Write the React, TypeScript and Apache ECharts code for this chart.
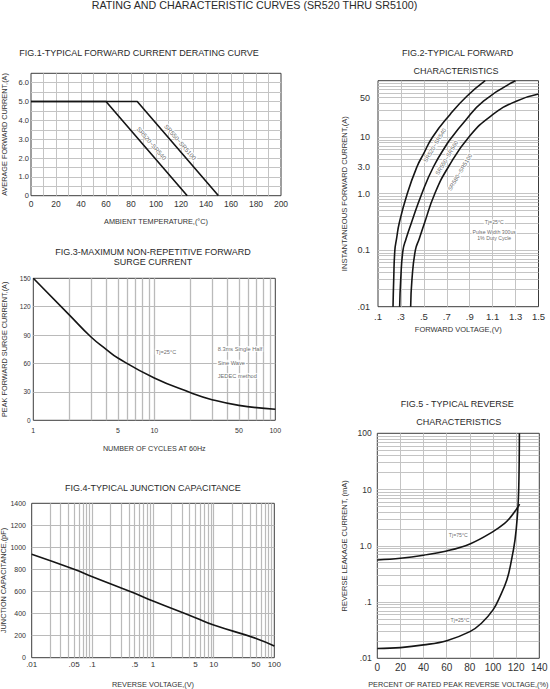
import React, { useEffect, useRef } from "react";
import * as echarts from "echarts";

const FONT = "'Liberation Sans', Arial, Helvetica, sans-serif";
const INK = "#151515";
const LABEL_INK = "#333333";
const GRID_LINE = "#c4c4c4";
const GRID_LINE_DARK = "#bababa";
const BORDER = "#3c3c3c";

const lg = (v: number) => Math.log10(v);

// ---------------- Titles ----------------
const mainTitle = "RATING AND CHARACTERISTIC CURVES (SR520 THRU SR5100)";

// ---------------- Fig.1 ----------------
const fig1Title = ["FIG.1-TYPICAL FORWARD CURRENT DERATING CURVE"];
const fig1XName = "AMBIENT TEMPERATURE,(°C)";
const fig1YName = "AVERAGE FORWARD CURRENT,(A)";
const fig1XGrid = [10, 20, 30, 40, 50, 60, 70, 80, 90, 100, 110, 120, 130, 140, 150, 160, 170, 180, 190];
const fig1XTickValues = [0, 20, 40, 60, 80, 100, 120, 140, 160, 180, 200];
const fig1XTickLabels = ["0", "20", "40", "60", "80", "100", "120", "140", "160", "180", "200"];
const fig1YGrid = [0.5, 1, 1.5, 2, 2.5, 3, 3.5, 4, 4.5, 5, 5.5, 6];
const fig1YTickValues = [0, 1, 2, 3, 4, 5, 6];
const fig1YTickLabels = ["0", "1.0", "2.0", "3.0", "4.0", "5.0", "6.0"];
const fig1SR520 = [[0, 5], [60, 5], [125, 0]];
const fig1SR550 = [[0, 5], [85, 5], [150, 0]];

// ---------------- Fig.2 ----------------
const fig2Title = ["FIG.2-TYPICAL FORWARD", "CHARACTERISTICS"];
const fig2XName = "FORWARD VOLTAGE,(V)";
const fig2YName = "INSTANTANEOUS FORWARD CURRENT,(A)";
const fig2XGrid = [0.3, 0.5, 0.7, 0.9, 1.1, 1.3];
const fig2XTickValues = [0.1, 0.3, 0.5, 0.7, 0.9, 1.1, 1.3, 1.5];
const fig2XTickLabels = [".1", ".3", ".5", ".7", ".9", "1.1", "1.3", "1.5"];
const fig2YTickValues = [0.01, 0.1, 1, 3, 10, 50];
const fig2YTickLabels = [".01", "0.1", "1.0", "3.0", "10", "50"];
const fig2SR520 = [[0.231, 0.01], [0.237, 0.03], [0.247, 0.1], [0.262, 0.16], [0.285, 0.3], [0.355, 1], [0.44, 3], [0.496, 5], [0.575, 10], [0.729, 25.3], [0.875, 53], [1.035, 100]];
const fig2SR550 = [[0.289, 0.01], [0.298, 0.03], [0.318, 0.1], [0.345, 0.16], [0.39, 0.3], [0.482, 1], [0.584, 3], [0.7, 7.5], [0.744, 10], [0.846, 18], [1.02, 43.6], [1.3, 100]];
const fig2SR580 = [[0.385, 0.01], [0.396, 0.03], [0.426, 0.1], [0.46, 0.16], [0.505, 0.3], [0.595, 1], [0.715, 3], [0.9, 10.5], [1.1, 25], [1.3, 43], [1.5, 58]];

// ---------------- Fig.3 ----------------
const fig3Title = ["FIG.3-MAXIMUM NON-REPETITIVE FORWARD", "SURGE CURRENT"];
const fig3XName = "NUMBER OF CYCLES AT 60Hz";
const fig3YName = "PEAK FORWARD SURGE CURRENT,(A)";
const fig3XTickValues = [1, 5, 10, 50, 100];
const fig3XTickLabels = ["1", "5", "10", "50", "100"];
const fig3YGrid = [30, 60, 90, 120];
const fig3YTickValues = [0, 30, 60, 90, 120, 150];
const fig3YTickLabels = ["0", "30", "60", "90", "120", "150"];
const fig3Surge = [[1, 150], [2, 110.9], [3, 88], [4, 75], [5, 65.8], [10, 44.7], [20, 29.2], [30, 21.8], [50, 15.8], [100, 11.6]];

// ---------------- Fig.4 ----------------
const fig4Title = ["FIG.4-TYPICAL JUNCTION CAPACITANCE"];
const fig4XName = "REVERSE VOLTAGE,(V)";
const fig4YName = "JUNCTION CAPACITANCE,(pF)";
const fig4XTickValues = [0.01, 0.05, 0.1, 0.5, 1, 5, 10, 50, 100];
const fig4XTickLabels = [".01", ".05", ".1", ".5", "1", "5", "10", "50", "100"];
const fig4YGrid = [200, 400, 600, 800, 1000, 1200];
const fig4YTickValues = [0, 200, 400, 600, 800, 1000, 1200, 1400];
const fig4YTickLabels = ["0", "200", "400", "600", "800", "1000", "1200", "1400"];
const fig4Cap = [[0.01, 937], [0.05, 801], [0.1, 735], [0.5, 584], [1, 514], [5, 363], [10, 296], [50, 175], [100, 106]];

// ---------------- Fig.5 ----------------
const fig5Title = ["FIG.5 - TYPICAL REVERSE", "CHARACTERISTICS"];
const fig5XName = "PERCENT OF RATED PEAK REVERSE VOLTAGE,(%)";
const fig5YName = "REVERSE LEAKAGE CURRENT, (mA)";
const fig5XGrid = [20, 40, 60, 80, 100, 120];
const fig5XTickValues = [0, 20, 40, 60, 80, 100, 120, 140];
const fig5XTickLabels = ["0", "20", "40", "60", "80", "100", "120", "140"];
const fig5YTickValues = [0.01, 0.1, 1, 10, 100];
const fig5YTickLabels = [".01", ".1", "1.0", "10", "100"];
const fig5Tj75 = [[0, 0.56], [20, 0.6], [40, 0.68], [60, 0.81], [80, 1.08], [100, 1.79], [110, 2.5], [115, 3.2], [120, 4.4], [123, 5.5]];
const fig5Tj25 = [[0, 0.0149], [20, 0.0155], [40, 0.0173], [60, 0.0206], [80, 0.0298], [90, 0.042], [100, 0.0725], [106, 0.125], [112, 0.248], [116, 0.56], [119, 1.27], [121, 3.3], [122.2, 9.9], [122.8, 100]];

// ---------------- helpers ----------------
function logGrid(minExp: number, maxExp: number): number[] {
  const out: number[] = [];
  for (let e = minExp; e < maxExp; e++) {
    for (let k = 1; k <= 9; k++) {
      if (e === minExp && k === 1) continue;
      out.push(lg(k * Math.pow(10, e)));
    }
  }
  return out;
}

function fmt(values: number[], labels: string[]) {
  return (val: number) => {
    for (let i = 0; i < values.length; i++) {
      if (Math.abs(values[i] - val) < 1e-6) return labels[i];
    }
    return "";
  };
}

type AxisSpec = {
  gridIndex: number;
  min: number;
  max: number;
  grid: number[];
  ticks: number[];
  labels: string[];
  fontSize: number;
  margin: number;
  name: string;
  nameGap: number;
  nameSize: number;
  lineColor?: string;
  lineWidth?: number;
};

function makeAxis(s: AxisSpec) {
  return {
    type: "value",
    gridIndex: s.gridIndex,
    min: s.min,
    max: s.max,
    name: s.name,
    nameLocation: "middle",
    nameGap: s.nameGap,
    nameTextStyle: { fontSize: s.nameSize, color: LABEL_INK, fontFamily: FONT },
    axisLine: { show: false },
    axisTick: { show: false, customValues: s.grid },
    axisLabel: {
      show: true,
      customValues: s.ticks,
      formatter: fmt(s.ticks, s.labels),
      fontSize: s.fontSize,
      color: LABEL_INK,
      fontFamily: FONT,
      margin: s.margin,
    },
    splitLine: { show: true, lineStyle: { color: s.lineColor || GRID_LINE, width: s.lineWidth || 1 } },
    minorTick: { show: false },
    minorSplitLine: { show: false },
  };
}

function curve(idx: number, data: number[][], logX: boolean, logY: boolean, smooth: number | boolean) {
  return {
    type: "line",
    xAxisIndex: idx,
    yAxisIndex: idx,
    data: data.map(([x, y]) => [logX ? lg(x) : x, logY ? lg(y) : y]),
    showSymbol: false,
    symbol: "none",
    smooth,
    silent: true,
    z: 3,
    lineStyle: { color: INK, width: 1.6 },
  };
}

type Note = { text: string; x: number; y: number; rotate?: number; align?: string; size: number };

function notes(idx: number, items: Note[], logX: boolean, logY: boolean) {
  return {
    type: "scatter",
    xAxisIndex: idx,
    yAxisIndex: idx,
    symbolSize: 0.1,
    silent: true,
    z: 5,
    itemStyle: { color: "transparent" },
    label: {
      show: true,
      position: "inside",
      color: "#444",
      fontFamily: FONT,
      backgroundColor: "#ffffff",
      padding: [0, 1],
    },
    data: items.map((n) => ({
      value: [logX ? lg(n.x) : n.x, logY ? lg(n.y) : n.y],
      label: {
        formatter: n.text,
        rotate: n.rotate || 0,
        align: n.align || "center",
        verticalAlign: "middle",
        fontSize: n.size,
      },
    })),
  };
}

function titleText(text: string, x: number, y: number, size: number) {
  return {
    type: "text",
    x,
    y,
    silent: true,
    style: {
      text,
      fill: "#2a2a2a",
      fontSize: size,
      fontFamily: FONT,
      align: "center",
      verticalAlign: "middle",
    },
  };
}

function buildOption() {
  const gridBase = {
    show: true,
    borderColor: BORDER,
    borderWidth: 1,
    backgroundColor: "transparent",
    containLabel: false,
    outerBoundsMode: "none",
  };

  const grids = [
    { ...gridBase, left: 31, top: 73.3, width: 250, height: 122.4 },
    { ...gridBase, left: 378, top: 80.7, width: 160.5, height: 226 },
    { ...gridBase, left: 33.3, top: 278.3, width: 242, height: 142 },
    { ...gridBase, left: 31.7, top: 503.3, width: 242.6, height: 154.4 },
    { ...gridBase, left: 377.3, top: 433.3, width: 162, height: 225 },
  ];

  const xAxes = [
    makeAxis({ gridIndex: 0, min: 0, max: 200, grid: fig1XGrid, ticks: fig1XTickValues, labels: fig1XTickLabels, fontSize: 8.5, margin: 3.5, name: fig1XName, nameGap: 22, nameSize: 7.3 }),
    makeAxis({ gridIndex: 1, min: 0.1, max: 1.5, grid: fig2XGrid, ticks: fig2XTickValues, labels: fig2XTickLabels, fontSize: 9.5, margin: 4.5, name: fig2XName, nameGap: 19, nameSize: 7.5 }),
    makeAxis({ gridIndex: 2, min: 0, max: 2, grid: logGrid(0, 2), ticks: fig3XTickValues.map(lg), labels: fig3XTickLabels, fontSize: 7, margin: 7, name: fig3XName, nameGap: 25, nameSize: 7.2, lineColor: GRID_LINE_DARK, lineWidth: 1.3 }),
    makeAxis({ gridIndex: 3, min: -2, max: 2, grid: logGrid(-2, 2), ticks: fig4XTickValues.map(lg), labels: fig4XTickLabels, fontSize: 8, margin: 2.5, name: fig4XName, nameGap: 23, nameSize: 7.3, lineColor: GRID_LINE_DARK, lineWidth: 1.2 }),
    makeAxis({ gridIndex: 4, min: 0, max: 140, grid: fig5XGrid, ticks: fig5XTickValues, labels: fig5XTickLabels, fontSize: 10, margin: 4, name: fig5XName, nameGap: 22.4, nameSize: 7.3 }),
  ];

  const yAxes = [
    makeAxis({ gridIndex: 0, min: 0, max: 6.5, grid: fig1YGrid, ticks: fig1YTickValues, labels: fig1YTickLabels, fontSize: 7.5, margin: 2, name: fig1YName, nameGap: 23.4, nameSize: 7.3 }),
    makeAxis({ gridIndex: 1, min: -2, max: 2, grid: logGrid(-2, 2), ticks: fig2YTickValues.map(lg), labels: fig2YTickLabels, fontSize: 9, margin: 8, name: fig2YName, nameGap: 29.3, nameSize: 7.6 }),
    makeAxis({ gridIndex: 2, min: 0, max: 150, grid: fig3YGrid, ticks: fig3YTickValues, labels: fig3YTickLabels, fontSize: 6.5, margin: 2.6, name: fig3YName, nameGap: 25.7, nameSize: 7.3, lineColor: GRID_LINE_DARK, lineWidth: 1.2 }),
    makeAxis({ gridIndex: 3, min: 0, max: 1400, grid: fig4YGrid, ticks: fig4YTickValues, labels: fig4YTickLabels, fontSize: 7, margin: 5.7, name: fig4YName, nameGap: 23.1, nameSize: 7.3, lineColor: GRID_LINE_DARK, lineWidth: 1.2 }),
    makeAxis({ gridIndex: 4, min: -2, max: 2, grid: logGrid(-2, 2), ticks: fig5YTickValues.map(lg), labels: fig5YTickLabels, fontSize: 8.5, margin: 5.6, name: fig5YName, nameGap: 28.7, nameSize: 7.5 }),
  ];

  const series: any[] = [
    curve(0, fig1SR520, false, false, false),
    curve(0, fig1SR550, false, false, false),
    notes(0, [
      { text: "SR520~SR540", x: 96.6, y: 2.78, rotate: -49, size: 6.2 },
      { text: "SR550~SR5100", x: 119.5, y: 2.85, rotate: -49, size: 6.2 },
    ], false, false),

    curve(1, fig2SR520, false, true, 0.5),
    curve(1, fig2SR550, false, true, 0.5),
    curve(1, fig2SR580, false, true, 0.5),
    notes(1, [
      { text: "SR520~SR540", x: 0.595, y: 7.2, rotate: 59, size: 5.8 },
      { text: "SR550~SR560", x: 0.7, y: 4.3, rotate: 59, size: 5.8 },
      { text: "SR580~SR5100", x: 0.815, y: 2.4, rotate: 59, size: 5.8 },
      { text: "Tj=25°C", x: 1.114, y: 0.318, size: 5.2 },
      { text: "Pulse Width 300us", x: 1.114, y: 0.212, size: 5.2 },
      { text: "1% Duty Cycle", x: 1.114, y: 0.166, size: 5.2 },
    ], false, true),

    curve(2, fig3Surge, true, false, 0.5),
    notes(2, [
      { text: "Tj=25°C", x: 12.5, y: 72.5, size: 5.6 },
      { text: "8.3ms Single Half", x: 32.8, y: 75.3, align: "left", size: 5.7 },
      { text: "Sine Wave", x: 32.8, y: 60.8, align: "left", size: 5.7 },
      { text: "JEDEC method", x: 32.8, y: 46.8, align: "left", size: 5.7 },
    ], true, false),

    curve(3, fig4Cap, true, false, 0.5),

    curve(4, fig5Tj75, false, true, 0.4),
    curve(4, fig5Tj25, false, true, 0.4),
    notes(4, [
      { text: "Tj=75°C", x: 70, y: 1.54, size: 5.2 },
      { text: "Tj=25°C", x: 71.5, y: 0.048, size: 5.2 },
    ], false, true),
  ];

  const graphic = [
    titleText(mainTitle, 254.5, 4.5, 10.7),
    titleText(fig1Title[0], 139, 52.7, 9),
    titleText(fig2Title[0], 457.7, 52.7, 9),
    titleText(fig2Title[1], 456, 70.7, 9),
    titleText(fig3Title[0], 153, 251.7, 9),
    titleText(fig3Title[1], 153, 261.5, 9),
    titleText(fig4Title[0], 152.8, 487.7, 9),
    titleText(fig5Title[0], 457.3, 404, 9),
    titleText(fig5Title[1], 458.8, 421.7, 9),
  ];

  return {
    animation: false,
    backgroundColor: "#ffffff",
    textStyle: { fontFamily: FONT },
    grid: grids,
    xAxis: xAxes,
    yAxis: yAxes,
    series,
    graphic,
  };
}

export default function App() {
  const ref = useRef<HTMLDivElement>(null);
  useEffect(() => {
    if (!ref.current) return;
    const chart = echarts.init(ref.current, null, { renderer: "svg" });
    chart.setOption(buildOption() as any);
    return () => chart.dispose();
  }, []);
  return (
    <div
      ref={ref}
      style={{ position: "absolute", left: 0, top: 0, width: 550, height: 689, background: "#fff" }}
    />
  );
}
